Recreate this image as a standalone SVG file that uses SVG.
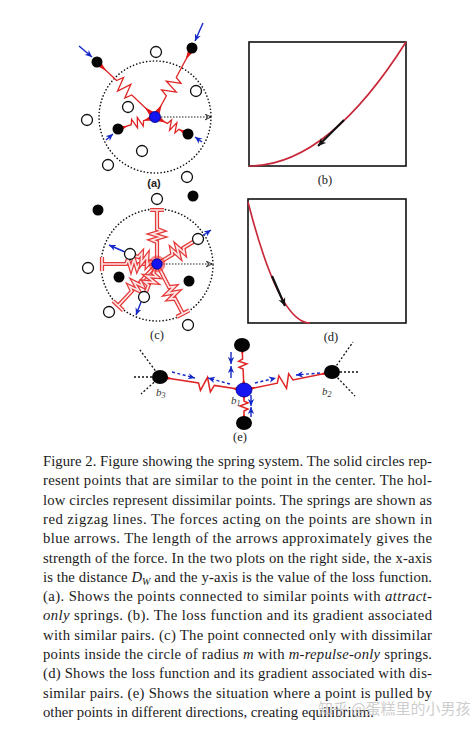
<svg xmlns="http://www.w3.org/2000/svg" xmlns:xlink="http://www.w3.org/1999/xlink" width="474" height="732" viewBox="0 0 474 732">
<style>
.hollow{fill:#fff;stroke:#111;stroke-width:1.3}
.solid{fill:#050505}
.ctr{fill:#1414f0;stroke:#00008a;stroke-width:0.8}
.dotc{fill:none;stroke:#111;stroke-width:1.6;stroke-dasharray:0.1 3.3;stroke-linecap:round}
.sa{fill:none;stroke:#e02424;stroke-width:1.3}
.se{fill:none;stroke:#e02424;stroke-width:1.5}
.wedge{fill:#e01818}
.cso{fill:none;stroke:#e43a3a;stroke-width:4.2}
.csi{fill:none;stroke:#fde6e6;stroke-width:1.7}
.barr{fill:none;stroke:#1428c8;stroke-width:1.4;marker-end:url(#ab)}
.dash{stroke-dasharray:3 2.5}
.radius{fill:none;stroke:#222;stroke-width:1;stroke-dasharray:1.5 1.5;marker-end:url(#ao)}
.ray{fill:none;stroke:#111;stroke-width:1.3;stroke-dasharray:2 2}
.box{fill:none;stroke:#111;stroke-width:1.6}
.curve{fill:none;stroke:#c8283a;stroke-width:1.7}
.karr{fill:none;stroke:#111;stroke-width:2.2;marker-end:url(#ak)}
.lbl{font-family:"Liberation Serif","Times New Roman",serif;font-size:12.5px;fill:#222;text-anchor:middle}
.bl{font-family:"Liberation Serif","Times New Roman",serif;font-size:11px;font-style:italic;fill:#333}
.cap{font-family:"Liberation Serif","Times New Roman",serif;font-size:14.7px;fill:#1a1a1a}
.it{font-style:italic}
</style>
<defs>
<marker id="ab" viewBox="0 0 10 10" refX="10" refY="5" markerWidth="7" markerHeight="7" markerUnits="userSpaceOnUse" orient="auto"><path d="M0,0.5 L10,5 L0,9.5 L3,5 z" fill="#1428c8"/></marker>
<marker id="ak" viewBox="0 0 10 10" refX="10" refY="5" markerWidth="8" markerHeight="8" markerUnits="userSpaceOnUse" orient="auto"><path d="M0,0.5 L10,5 L0,9.5 L3,5 z" fill="#111"/></marker>
<marker id="ao" viewBox="0 0 10 10" refX="9" refY="5" markerWidth="7" markerHeight="7" markerUnits="userSpaceOnUse" orient="auto"><path d="M1,1 L9,5 L1,9 L4,5 z" fill="none" stroke="#111" stroke-width="1.2"/></marker>
<path id="c1" d="M0,0 H22 l2,-5 l3,10 l3,-10 l3,10 l2,-5 H54 M54,-7 V7"/>
<path id="c2" d="M0,0 H18 l2,-5 l3,10 l3,-10 l3,10 l2,-5 H55 M55,-7 V7"/>
<path id="c3" d="M0,0 H18 l2,-5 l3,10 l3,-10 l3,10 l2,-5 H43"/>
<path id="c4" d="M0,0 H7 l2,-5 l3,10 l3,-10 l3,10 l2,-5 H24"/>
<path id="c5" d="M0,0 H24 l2,-5 l3,10 l3,-10 l3,10 l2,-5 H57 M57,-7 V7"/>
<path id="c6" d="M0,0 H10 l2,-5 l3,10 l3,-10 l3,10 l2,-5 H30"/>
<path id="c7" d="M0,0 H26 l2,-5 l3,10 l3,-10 l3,10 l2,-5 H56 M56,-7 V7"/>
</defs>
<rect width="474" height="732" fill="#fff"/>

<!-- panel frames -->
<g id="panel-a-circle"><circle cx="155" cy="117" r="56" class="dotc"/></g>
<g id="panel-c-circle"><circle cx="157" cy="265" r="56" class="dotc"/></g>

<g id="plot-b">
<rect x="249" y="42" width="157" height="124" class="box"/>
<path class="curve" d="M249,166 Q327.5,166 406,42"/>
<text x="325" y="184" class="lbl">(b)</text>
</g>
<g id="plot-d">
<rect x="248" y="199" width="158" height="124" class="box"/>
<path class="curve" d="M248,202 Q279,323 310,323"/>
<text x="331" y="341" class="lbl">(d)</text>
</g>

<g id="connectors">
<!-- (a) attract-only springs -->
<g transform="translate(155,117) rotate(-136.5)"><path class="sa" d="M0,0 H32 l3,-7 l5,14 l5,-14 l5,14 l3,-7 H80"/><polygon class="wedge" points="0,-4 0,4 14,0"/><polygon class="wedge" points="80,-3.5 80,3.5 67,0"/></g>
<g transform="translate(155,117) rotate(-61.8)"><path class="sa" d="M0,0 H24 l3,-7 l5,14 l5,-14 l5,14 l3,-7 H78"/><polygon class="wedge" points="0,-4 0,4 14,0"/><polygon class="wedge" points="78,-3.5 78,3.5 65,0"/></g>
<g transform="translate(155,117) rotate(162)"><path class="sa" d="M0,0 H12 l2,-5 l3,10 l3,-10 l3,10 l2,-5 H39"/><polygon class="wedge" points="0,-4 0,4 12,0"/><polygon class="wedge" points="39,-3.5 39,3.5 29,0"/></g>
<g transform="translate(155,117) rotate(27.3)"><path class="sa" d="M0,0 H14 l2,-5 l3,10 l3,-10 l3,10 l2,-5 H37"/><polygon class="wedge" points="0,-4 0,4 12,0"/><polygon class="wedge" points="37,-3.5 37,3.5 27,0"/></g>
<line x1="161" y1="117" x2="211" y2="117" class="radius"/>
<line x1="79" y1="46" x2="92" y2="57" class="barr"/>
<line x1="203" y1="23" x2="195" y2="41" class="barr"/>
<line x1="106" y1="140" x2="113" y2="134" class="barr"/>
<line x1="202" y1="142" x2="195" y2="137" class="barr"/>

<!-- (c) m-repulse-only springs -->
<g transform="translate(157,264) rotate(-90)"><use xlink:href="#c1" class="cso"/><use xlink:href="#c1" class="csi"/></g>
<g transform="translate(157,264) rotate(180)"><use xlink:href="#c2" class="cso"/><use xlink:href="#c2" class="csi"/></g>
<g transform="translate(157,264) rotate(-31.4)"><use xlink:href="#c3" class="cso"/><use xlink:href="#c3" class="csi"/></g>
<g transform="translate(157,264) rotate(-159.7)"><use xlink:href="#c4" class="cso"/><use xlink:href="#c4" class="csi"/></g>
<g transform="translate(157,264) rotate(132.9)"><use xlink:href="#c5" class="cso"/><use xlink:href="#c5" class="csi"/></g>
<g transform="translate(157,264) rotate(111.5)"><use xlink:href="#c6" class="cso"/><use xlink:href="#c6" class="csi"/></g>
<g transform="translate(157,264) rotate(62.5)"><use xlink:href="#c7" class="cso"/><use xlink:href="#c7" class="csi"/></g>
<line x1="163" y1="264" x2="212" y2="264" class="radius"/>
<line x1="125" y1="252" x2="109" y2="245" class="barr"/>
<line x1="202" y1="236" x2="211" y2="230" class="barr"/>
<line x1="141" y1="302" x2="136" y2="315" class="barr"/>

<!-- plot gradient arrows -->
<line x1="344" y1="120" x2="318" y2="146" class="karr"/>
<line x1="272" y1="276" x2="285" y2="306" class="karr"/>

<!-- (e) equilibrium -->
<line x1="160" y1="377" x2="140" y2="350" class="ray"/>
<line x1="160" y1="377" x2="134" y2="377" class="ray"/>
<line x1="160" y1="377" x2="141" y2="394" class="ray"/>
<line x1="332" y1="372" x2="353" y2="342" class="ray"/>
<line x1="332" y1="372" x2="359" y2="372" class="ray"/>
<line x1="332" y1="372" x2="355" y2="396" class="ray"/>
<g transform="translate(244,390) rotate(188.8)"><path class="se" d="M0,0 H30 l3,-7 l5,14 l5,-14 l3,7 H85"/><polygon class="wedge" points="0,-4 0,4 12,0"/><polygon class="wedge" points="85,-4 85,4 73,0"/></g>
<g transform="translate(244,390) rotate(-11.6)"><path class="se" d="M0,0 H34 l3,-7 l5,14 l5,-14 l3,7 H90"/><polygon class="wedge" points="0,-4 0,4 12,0"/><polygon class="wedge" points="90,-4 90,4 78,0"/></g>
<g transform="translate(244,390) rotate(-92.5)"><path class="se" d="M0,0 H21 l2,-4 l3,8 l3,-8 l2,4 H45"/><polygon class="wedge" points="0,-4 0,4 11,0"/><polygon class="wedge" points="45,-4 45,4 35,0"/></g>
<g transform="translate(244,390) rotate(90)"><path class="se" d="M0,0 H11 l2,-4 l3,8 l3,-8 l2,4 H33"/><polygon class="wedge" points="0,-4 0,4 10,0"/><polygon class="wedge" points="33,-4 33,4 24,0"/></g>
<line x1="172" y1="372" x2="195" y2="378" class="barr dash"/>
<line x1="230" y1="384" x2="208" y2="378" class="barr dash"/>
<line x1="255" y1="383" x2="276" y2="378" class="barr dash"/>
<line x1="320" y1="373" x2="296" y2="375" class="barr dash"/>
<line x1="231" y1="352" x2="231" y2="364" class="barr"/>
<line x1="231" y1="378" x2="231" y2="366" class="barr"/>
<line x1="251" y1="395" x2="251" y2="406" class="barr"/>
<line x1="251" y1="417" x2="251" y2="407" class="barr"/>
</g>

<!-- (a) nodes -->
<g id="a-center"><circle cx="155" cy="117" r="5.5" class="ctr"/></g>
<g id="a-similar">
<circle cx="97" cy="62" r="5.5" class="solid"/>
<circle cx="192" cy="48" r="5.5" class="solid"/>
<circle cx="118" cy="129" r="5.5" class="solid"/>
<circle cx="188" cy="134" r="5.5" class="solid"/>
</g>
<g id="a-dissimilar">
<circle cx="156" cy="52" r="5.5" class="hollow"/>
<circle cx="196" cy="91" r="5.5" class="hollow"/>
<circle cx="128" cy="107" r="5.5" class="hollow"/>
<circle cx="87" cy="120" r="5.5" class="hollow"/>
<circle cx="142" cy="151" r="5.5" class="hollow"/>
<circle cx="108" cy="165" r="5.5" class="hollow"/>
<circle cx="187" cy="177" r="5.5" class="hollow"/>
</g>
<g id="label-a"><text x="154" y="187" font-family="Liberation Sans, Arial, sans-serif" font-size="11" font-weight="bold" fill="#222" text-anchor="middle">(a)</text></g>

<!-- (c) nodes -->
<g id="c-center"><circle cx="157" cy="264" r="8.5" fill="#f03030" opacity="0.55"/><circle cx="157" cy="264" r="5.2" class="ctr"/></g>
<g id="c-similar">
<circle cx="98" cy="210" r="5.5" class="solid"/>
<circle cx="193" cy="196" r="5.5" class="solid"/>
<circle cx="119" cy="277" r="5.5" class="solid"/>
<circle cx="189" cy="281" r="5.5" class="solid"/>
</g>
<g id="c-dissimilar">
<circle cx="157" cy="199" r="5.5" class="hollow"/>
<circle cx="198" cy="239" r="5.5" class="hollow"/>
<circle cx="130" cy="254" r="5.5" class="hollow"/>
<circle cx="88" cy="268" r="5.5" class="hollow"/>
<circle cx="144" cy="297" r="5.5" class="hollow"/>
<circle cx="109" cy="312" r="5.5" class="hollow"/>
<circle cx="188" cy="325" r="5.5" class="hollow"/>
</g>
<g id="label-c"><text x="157" y="339" class="lbl">(c)</text></g>

<!-- (e) nodes -->
<g id="e-b1"><ellipse cx="244" cy="390" rx="8" ry="7" class="ctr"/><text x="231" y="404" class="bl">b<tspan font-size="8" dy="2">1</tspan></text></g>
<g id="e-top"><ellipse cx="242" cy="345" rx="8" ry="7" class="solid"/></g>
<g id="e-bottom"><ellipse cx="244" cy="423" rx="8" ry="7" class="solid"/></g>
<g id="e-b3"><ellipse cx="160" cy="377" rx="8" ry="7" class="solid"/><text x="156" y="396" class="bl">b<tspan font-size="8" dy="2">3</tspan></text></g>
<g id="e-b2"><ellipse cx="332" cy="372" rx="8" ry="7" class="solid"/><text x="322" y="395" class="bl">b<tspan font-size="8" dy="2">2</tspan></text></g>
<g id="label-e"><text x="240" y="441" class="lbl">(e)</text></g>

<!-- caption -->
<g id="caption" class="cap">
<text x="43" y="466" textLength="389" lengthAdjust="spacing">Figure 2. Figure showing the spring system. The solid circles rep-</text>
<text x="43" y="485.3" textLength="389" lengthAdjust="spacing">resent points that are similar to the point in the center.  The hol-</text>
<text x="43" y="504.6" textLength="389" lengthAdjust="spacing">low circles represent dissimilar points. The springs are shown as</text>
<text x="43" y="523.9" textLength="389" lengthAdjust="spacing">red zigzag lines.  The forces acting on the points are shown in</text>
<text x="43" y="543.2" textLength="389" lengthAdjust="spacing">blue arrows.  The length of the arrows approximately gives the</text>
<text x="43" y="562.5" textLength="389" lengthAdjust="spacing">strength of the force. In the two plots on the right side, the x-axis</text>
<text x="43" y="581.8" textLength="389" lengthAdjust="spacing">is the distance <tspan class="it">D</tspan><tspan class="it" font-size="10" dy="3">W</tspan><tspan dy="-3"> and the y-axis is the value of the loss function.</tspan></text>
<text x="43" y="601.1" textLength="389" lengthAdjust="spacing">(a).  Shows the points connected to similar points with <tspan class="it">attract-</tspan></text>
<text x="43" y="620.4" textLength="389" lengthAdjust="spacing"><tspan class="it">only</tspan> springs.  (b).  The loss function and its gradient associated</text>
<text x="43" y="639.7" textLength="389" lengthAdjust="spacing">with similar pairs.  (c) The point connected only with dissimilar</text>
<text x="43" y="659" textLength="389" lengthAdjust="spacing">points inside the circle of radius <tspan class="it">m</tspan> with <tspan class="it">m-repulse-only</tspan> springs.</text>
<text x="43" y="678.3" textLength="389" lengthAdjust="spacing">(d) Shows the loss function and its gradient associated with dis-</text>
<text x="43" y="697.6" textLength="389" lengthAdjust="spacing">similar pairs.  (e) Shows the situation where a point is pulled by</text>
<text x="43" y="716.9">other points in different directions, creating equilibrium.</text>
</g>
<g id="watermark"><text x="318" y="714" font-family="Noto Sans CJK SC, sans-serif" font-size="15" fill="#c4c4c4" fill-opacity="0.85">知乎 @蛋糕里的小男孩</text></g>
</svg>
